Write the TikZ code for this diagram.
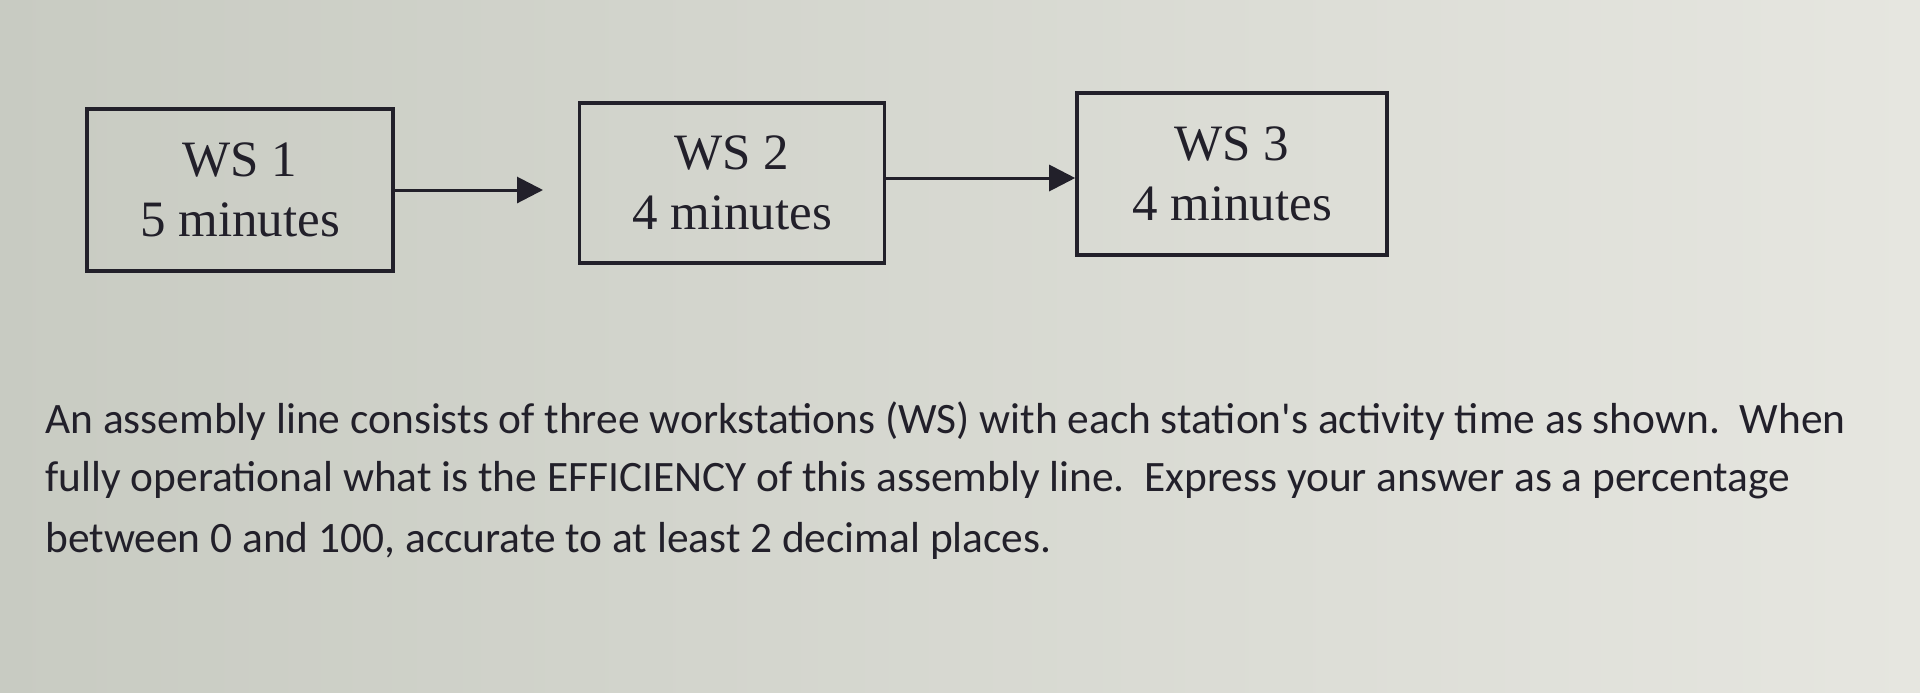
\documentclass[tikz,border=0pt]{standalone}
\usepackage{fontspec}
\setmainfont{Liberation Serif}
\newfontfamily\calibri{Carlito}
\usetikzlibrary{arrows.meta}
\usetikzlibrary{positioning}

\definecolor{bgleft}{RGB}{200,203,194}
\definecolor{bgright}{RGB}{230,230,224}
\definecolor{ink}{RGB}{34,32,42}

\tikzset{
  station/.style={draw=ink, line width=1.8pt, minimum width=153pt, minimum height=81pt,
    align=center, text=ink, font=\fontsize{25.5}{30}\selectfont, inner sep=0pt},
  flow/.style={draw=ink, line width=1.5pt, -{Triangle[length=13pt, width=13pt]}},
  question/.style={anchor=base west, text=ink, inner sep=0pt,
    font=\calibri\fontsize{21.7}{26}\selectfont}
}

\begin{document}
\begin{tikzpicture}[x=0.5pt, y=-0.5pt]

%% Background %%
\shade[left color=bgleft, right color=bgright] (0,0) rectangle (1920,692);
\useasboundingbox (0,0) rectangle (1920,692);

%% Stations %%
\node[station] (ws1) at (240,190) {WS 1\\5 minutes};
\node[station, minimum width=152.5pt, minimum height=80pt] (ws2) at (732,183) {WS 2\\4 minutes};
\node[station, minimum width=155pt] (ws3) at (1232,174) {WS 3\\4 minutes};

%% Connection arrows %%
% left to right %
\coordinate (stop1) at (543,190);
\draw[flow] (ws1.east) -- (stop1);
\draw[flow] (ws2.east |- 0,178) -- (ws3.west |- 0,178);

%% Question text %%
\node[question] (line1) at (45,433) {An assembly line consists of three workstations (WS) with each station's activity time as shown.\ \ When};
\node[question] (line2) at (45,491) {fully operational what is the EFFICIENCY of this assembly line.\ \ Express your answer as a percentage};
\node[question] (line3) at (45,552) {between 0 and 100, accurate to at least 2 decimal places.};

\end{tikzpicture}
\end{document}
